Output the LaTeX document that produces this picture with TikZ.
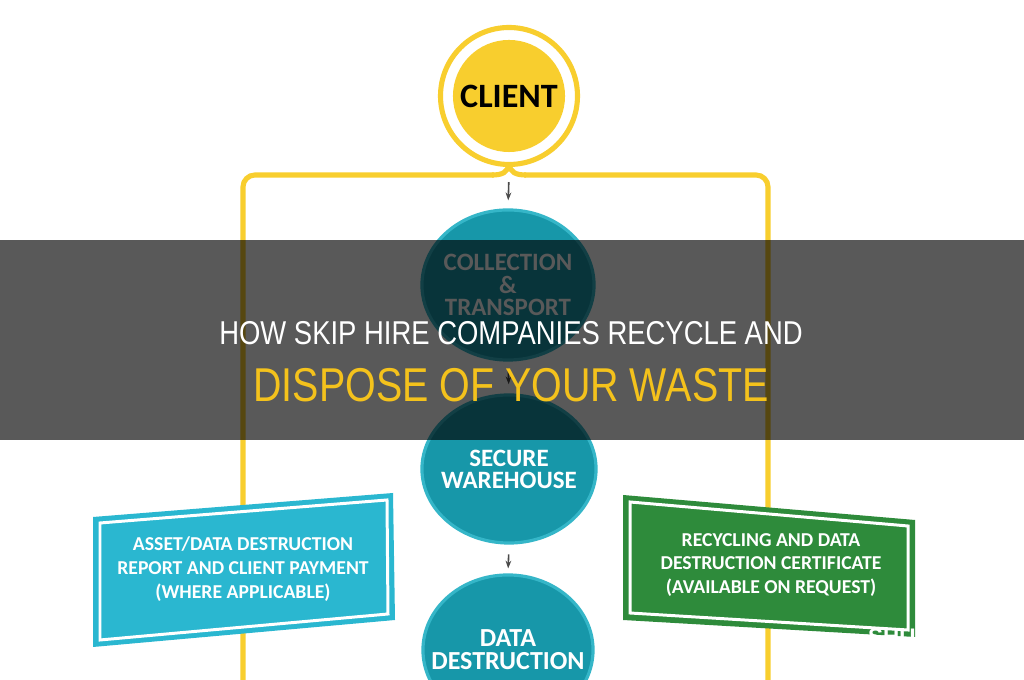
\documentclass[tikz,border=0pt]{standalone}
\usepackage{fontspec}
\setmainfont{Carlito}
\newfontfamily\headfont[FakeStretch=0.83]{Liberation Sans}
\newfontfamily\markfont{Liberation Sans}
\usetikzlibrary{shapes.geometric, arrows.meta}
\definecolor{clientyellow}{HTML}{F8CE2E}
\definecolor{stageteal}{HTML}{1797A9}
\definecolor{stageedge}{HTML}{35B6C8}
\definecolor{reportcyan}{HTML}{2AB7D0}
\definecolor{certgreen}{HTML}{2E8B3B}
\definecolor{titleyellow}{HTML}{F4C21C}
\definecolor{arrowgray}{HTML}{4A4A4A}

\begin{document}
\begin{tikzpicture}[x=0.01cm, y=-0.01cm,
  yline/.style={clientyellow, line width=1.45pt},
  stage/.style={ellipse, fill=stageteal, draw=stageedge, line width=0.9pt,
    minimum width=1.74cm, minimum height=1.48cm, inner sep=0pt},
  stagetext/.style={text=white, align=center, font=\bfseries\fontsize{7.1}{6.3}\selectfont},
  flow/.style={arrowgray, line width=0.45pt, -{Stealth[length=2.2pt, width=1.6pt]}},
  boxtext/.style={text=white, align=center, font=\bfseries\fontsize{5.6}{6.8}\selectfont}]
\useasboundingbox (0,0) rectangle (1024,680);
\clip (0,0) rectangle (1024,680);
\fill[white] (0,0) rectangle (1024,680);
% yellow frame round the flow
\draw[yline, rounded corners=3.4pt] (243,700) -- (243,175) -- (494,175);
\draw[yline, rounded corners=3.4pt] (768,700) -- (768,175) -- (524,175);
\draw[yline] (492,175) .. controls (503,175) and (507,172) .. (509,165);
\draw[yline] (526,175) .. controls (515,175) and (511,172) .. (509,165);
\coordinate (fork) at (509,175);
% client
\draw[clientyellow, line width=1.45pt] (509,96) circle (68.5);
\node[circle, fill=clientyellow, minimum size=1.12cm, inner sep=0pt,
  font=\bfseries\fontsize{9.7}{11}\selectfont] (client) at (509,96) {CLIENT};
% stages
\node[stage, minimum width=1.72cm, minimum height=1.5cm,
  label={[stagetext]center:{COLLECTION\\\&\\TRANSPORT}}] (collect) at (508,285) {};
\node[stage, label={[stagetext]center:{SECURE\\WAREHOUSE}}] (store) at (509,469) {};
\node[stage, minimum width=1.70cm, minimum height=1.5cm,
  label={[stagetext, font=\bfseries\fontsize{7.4}{6.6}\selectfont]center:{DATA\\DESTRUCTION}}] (destroy) at (508,650) {};
\draw[flow, shorten <=2pt, shorten >=2.3pt] (fork) -- (collect.north);
\draw[flow, shorten <=2.3pt, shorten >=2.6pt] (collect.south) -- (store.north);
\draw[flow, shorten <=2.8pt, shorten >=1.4pt] (store.south) -- (destroy.north);
% report box (left)
\fill[reportcyan] (93,517) -- (393,493) -- (395,620) -- (93,647) -- cycle;
\draw[white, line width=0.85pt, fill=reportcyan] (100,523) -- (387,500) -- (388,614) -- (100,640) -- cycle;
\node[boxtext] (report) at (243,569) {ASSET/DATA DESTRUCTION\\REPORT AND CLIENT PAYMENT\\(WHERE APPLICABLE)};
% certificate box (right)
\fill[certgreen] (623,495) -- (915,520) -- (915,637) -- (623,620) -- cycle;
\draw[white, line width=0.85pt, fill=certgreen] (630,502) -- (908,526) -- (908,630) -- (630,613) -- cycle;
\node[boxtext] (cert) at (771,565) {RECYCLING AND DATA\\DESTRUCTION CERTIFICATE\\(AVAILABLE ON REQUEST)};
\node[text=white, font=\markfont\bfseries\fontsize{6.4}{7}\selectfont] (mark) at (900,637) {SHUN};
% title banner
\fill[black, opacity=0.65] (0,240) rectangle (1024,440);
\node[text=white, font=\headfont\fontsize{9.4}{10}\selectfont] (title) at (511,333) {HOW SKIP HIRE COMPANIES RECYCLE AND};
\node[text=titleyellow, font=\headfont\fontsize{13.5}{15}\selectfont] (subtitle) at (511,385) {DISPOSE OF YOUR WASTE};
\end{tikzpicture}
\end{document}
